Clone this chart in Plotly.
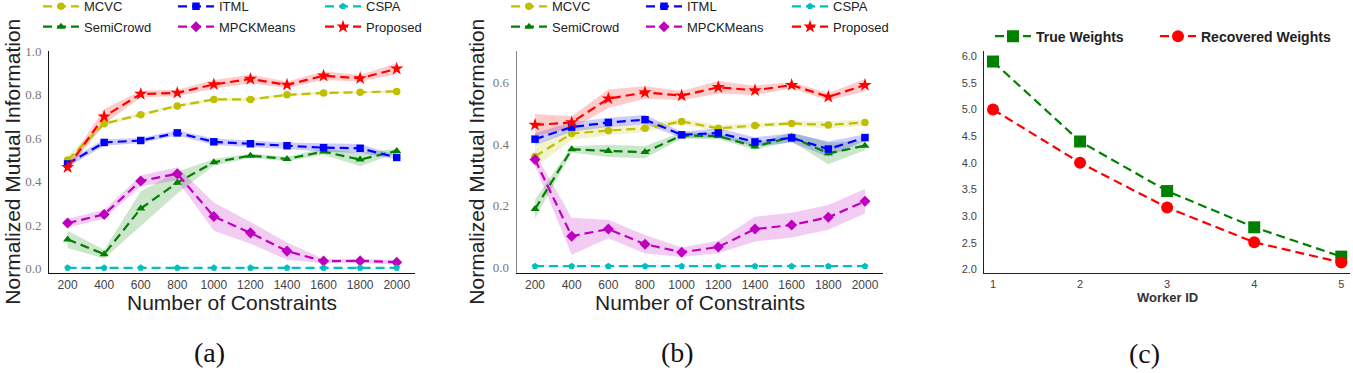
import plotly.graph_objects as go

W, H = 1353, 373
OFF = 40            # extra space above the visible page (hidden by CSS shift)
HF = H + OFF        # figure height

# ---------------- data ----------------
constraints = [200, 400, 600, 800, 1000, 1200, 1400, 1600, 1800, 2000]
methods = ["MCVC", "SemiCrowd", "ITML", "MPCKMeans", "CSPA", "Proposed"]

a_mcvc = [0.50, 0.667, 0.709, 0.749, 0.779, 0.779, 0.800, 0.809, 0.812, 0.816]
a_semi = [0.135, 0.067, 0.277, 0.396, 0.490, 0.520, 0.505, 0.539, 0.502, 0.542]
a_itml = [0.482, 0.581, 0.590, 0.625, 0.584, 0.575, 0.566, 0.557, 0.554, 0.512]
a_mpck = [0.210, 0.250, 0.404, 0.437, 0.240, 0.165, 0.081, 0.035, 0.036, 0.030]
a_cspa = [0.004, 0.004, 0.004, 0.004, 0.004, 0.004, 0.004, 0.004, 0.004, 0.004]
a_prop = [0.467, 0.700, 0.804, 0.809, 0.848, 0.873, 0.846, 0.888, 0.876, 0.920]

a_mcvc_sd = [0.020, 0.010, 0.008, 0.008, 0.008, 0.008, 0.006, 0.006, 0.006, 0.006]
a_semi_sd = [0.040, 0.020, 0.080, 0.050, 0.015, 0.010, 0.010, 0.015, 0.030, 0.010]
a_itml_sd = [0.015, 0.015, 0.012, 0.012, 0.015, 0.015, 0.015, 0.020, 0.020, 0.010]
a_mpck_sd = [0.020, 0.020, 0.025, 0.030, 0.065, 0.050, 0.040, 0.010, 0.010, 0.010]
a_cspa_sd = [0.002] * 10
a_prop_sd = [0.015, 0.035, 0.015, 0.015, 0.020, 0.020, 0.015, 0.020, 0.015, 0.025]

b_mcvc = [0.360, 0.434, 0.444, 0.451, 0.473, 0.451, 0.460, 0.467, 0.462, 0.470]
b_semi = [0.190, 0.383, 0.378, 0.374, 0.428, 0.426, 0.392, 0.423, 0.370, 0.395]
b_itml = [0.416, 0.455, 0.470, 0.479, 0.430, 0.436, 0.407, 0.420, 0.384, 0.421]
b_mpck = [0.350, 0.102, 0.125, 0.076, 0.050, 0.067, 0.125, 0.138, 0.163, 0.215]
b_cspa = [0.005, 0.005, 0.005, 0.005, 0.005, 0.005, 0.005, 0.005, 0.005, 0.005]
b_prop = [0.462, 0.470, 0.547, 0.567, 0.557, 0.584, 0.574, 0.591, 0.553, 0.591]

b_mcvc_sd = [0.035, 0.020, 0.015, 0.012, 0.010, 0.010, 0.008, 0.008, 0.012, 0.010]
b_semi_sd = [0.030, 0.010, 0.020, 0.020, 0.010, 0.010, 0.010, 0.015, 0.035, 0.015]
b_itml_sd = [0.020, 0.015, 0.015, 0.015, 0.010, 0.015, 0.015, 0.015, 0.025, 0.010]
b_mpck_sd = [0.020, 0.060, 0.030, 0.030, 0.015, 0.020, 0.040, 0.040, 0.040, 0.040]
b_cspa_sd = [0.002] * 10
b_prop_sd = [0.035, 0.020, 0.030, 0.020, 0.015, 0.020, 0.015, 0.010, 0.012, 0.020]

worker_id = [1, 2, 3, 4, 5]
true_weights = [5.90, 4.40, 3.47, 2.79, 2.24]
recovered_weights = [5.00, 4.00, 3.16, 2.51, 2.13]

x_ticks = constraints
x_ticklabels = [str(v) for v in constraints]
a_yticks = [0.0, 0.2, 0.4, 0.6, 0.8, 1.0]
b_yticks = [0.0, 0.2, 0.4, 0.6]
c_yticks = [2.0, 2.5, 3.0, 3.5, 4.0, 4.5, 5.0, 5.5, 6.0]

# ---------------- styles ----------------
colors = {"MCVC": (191, 191, 0), "SemiCrowd": (0, 128, 0), "ITML": (0, 0, 255),
          "MPCKMeans": (191, 0, 191), "CSPA": (0, 191, 191), "Proposed": (255, 0, 0)}
symbols = {"MCVC": ("circle", 7.5), "SemiCrowd": ("triangle-up", 8), "ITML": ("square", 7.5),
           "MPCKMeans": ("diamond", 8.5), "CSPA": ("pentagon", 7), "Proposed": ("star", 10)}
DASH = "9px,5px"

fig = go.Figure()

panel_a = {"MCVC": (a_mcvc, a_mcvc_sd), "SemiCrowd": (a_semi, a_semi_sd), "ITML": (a_itml, a_itml_sd),
           "MPCKMeans": (a_mpck, a_mpck_sd), "CSPA": (a_cspa, a_cspa_sd), "Proposed": (a_prop, a_prop_sd)}
panel_b = {"MCVC": (b_mcvc, b_mcvc_sd), "SemiCrowd": (b_semi, b_semi_sd), "ITML": (b_itml, b_itml_sd),
           "MPCKMeans": (b_mpck, b_mpck_sd), "CSPA": (b_cspa, b_cspa_sd), "Proposed": (b_prop, b_prop_sd)}

def px2x(p):
    return p / W

def px2y(p):
    # p is a pixel row in the visible page; the figure is OFF px taller at the top
    return 1 - (p + OFF) / HF

# legend positions (pixel, visible page) of each entry's text centre row
leg_cols_a = [45, 180, 327]
leg_cols_b = [513, 648, 794]
leg_rows = [7, 28]
leg_grid = {"MCVC": (0, 0), "ITML": (1, 0), "CSPA": (2, 0),
            "SemiCrowd": (0, 1), "MPCKMeans": (1, 1), "Proposed": (2, 1)}
LEG_TOP_TO_CENTER = 22

legend_layouts = {}
leg_idx = [1]

def new_legend(xpx, ypx, size=13, bold=False):
    name = "legend" if leg_idx[0] == 1 else f"legend{leg_idx[0]}"
    leg_idx[0] += 1
    legend_layouts[name] = dict(
        x=px2x(xpx), y=px2y(ypx - LEG_TOP_TO_CENTER), xanchor="left", yanchor="top",
        bgcolor="rgba(0,0,0,0)", borderwidth=0, itemwidth=36,
        font=dict(family="Liberation Sans", size=size, color="#222222",
                  weight="bold" if bold else "normal"),
        tracegroupgap=0, itemclick=False,
    )
    return name

for panel, xa, ya, cols in ((panel_a, "x", "y", leg_cols_a), (panel_b, "x2", "y2", leg_cols_b)):
    for m in methods:
        vals, sd = panel[m]
        r, g, b = colors[m]
        upper = [v + s for v, s in zip(vals, sd)]
        lower = [v - s for v, s in zip(vals, sd)]
        fig.add_trace(go.Scatter(
            x=constraints + constraints[::-1], y=upper + lower[::-1],
            fill="toself", fillcolor=f"rgba({r},{g},{b},0.2)", line=dict(width=0),
            mode="lines", hoverinfo="skip", showlegend=False, xaxis=xa, yaxis=ya))
    for m in methods:
        vals, sd = panel[m]
        r, g, b = colors[m]
        ci, ri = leg_grid[m]
        lname = new_legend(cols[ci] - 7, leg_rows[ri])
        sym, size = symbols[m]
        fig.add_trace(go.Scatter(
            x=constraints, y=vals, mode="lines+markers", name=m, cliponaxis=False,
            line=dict(color=f"rgb({r},{g},{b})", width=2.2, dash=DASH),
            marker=dict(symbol=sym, size=size, color=f"rgb({r},{g},{b})", line=dict(width=0)),
            xaxis=xa, yaxis=ya, legend=lname))

# panel c
ln = new_legend(997 - 7, 37, size=14, bold=True)
fig.add_trace(go.Scatter(x=worker_id, y=true_weights, mode="lines+markers", name="True Weights",
                         cliponaxis=False,
                         line=dict(color="#008000", width=2.2, dash=DASH),
                         marker=dict(symbol="square", size=12, color="#008000"),
                         xaxis="x3", yaxis="y3", legend=ln))
ln = new_legend(1162 - 7, 37, size=14, bold=True)
fig.add_trace(go.Scatter(x=worker_id, y=recovered_weights, mode="lines+markers", name="Recovered Weights",
                         cliponaxis=False,
                         line=dict(color="#ff0000", width=2.2, dash=DASH),
                         marker=dict(symbol="circle", size=12, color="#ff0000"),
                         xaxis="x3", yaxis="y3", legend=ln))

# ---------------- axes ----------------
ydom_ab = [px2y(274), px2y(46.7)]
common_x = dict(showgrid=False, zeroline=False, showline=True, linecolor="#111111", linewidth=1.3,
                ticks="outside", ticklen=1, tickcolor="rgba(0,0,0,0)",
                tickfont=dict(family="Liberation Sans", size=12, color="#444444"),
                range=[100, 2100], tickvals=x_ticks, ticktext=x_ticklabels)
common_y = dict(showgrid=False, zeroline=False, showline=True, linewidth=1.3,
                ticks="outside", ticklen=4, tickcolor="rgba(0,0,0,0)",
                tickfont=dict(family="Liberation Serif", size=13, color="#777777"),
                tickformat=".1f")

layout = dict(
    width=W, height=HF, margin=dict(l=0, r=0, t=0, b=0),
    paper_bgcolor="white", plot_bgcolor="white",
    xaxis=dict(domain=[px2x(49.3), px2x(415)], anchor="y", **common_x),
    yaxis=dict(domain=ydom_ab, anchor="x", range=[-0.018, 1.0], tickvals=a_yticks,
               linecolor="#111111", **common_y),
    xaxis2=dict(domain=[px2x(516.7), px2x(883.3)], anchor="y2", **common_x),
    yaxis2=dict(domain=ydom_ab, anchor="x2", range=[-0.016, 0.70], tickvals=b_yticks,
                linecolor="#888888", **common_y),
    xaxis3=dict(domain=[px2x(984.3), px2x(1350)], anchor="y3", range=[0.9, 5.1], tickvals=worker_id,
                showgrid=False, zeroline=False, showline=True, linecolor="#222222", linewidth=1.3,
                ticks="outside", ticklen=1, tickcolor="rgba(0,0,0,0)",
                tickfont=dict(family="Liberation Sans", size=11, color="#444444")),
    yaxis3=dict(domain=[px2y(274.3), px2y(46.7)], anchor="x3", range=[1.934, 6.09], tickvals=c_yticks,
                tickformat=".1f", showgrid=False, zeroline=False, showline=True, linecolor="#222222",
                linewidth=1.3, ticks="outside", ticklen=4, tickcolor="rgba(0,0,0,0)",
                tickfont=dict(family="Liberation Sans", size=11, color="#444444")),
)
layout.update(legend_layouts)
fig.update_layout(**layout)

def ann(text, xpx, ypx, size, family="Liberation Sans", color="#222222", angle=0, bold=False):
    fig.add_annotation(text=text, x=px2x(xpx), y=px2y(ypx), xref="paper", yref="paper",
                       xanchor="center", yanchor="middle", showarrow=False, textangle=angle,
                       font=dict(family=family, size=size, color=color,
                                 weight="bold" if bold else "normal"))

ann("Normalized Mutual Information", 13, 160, 21, angle=-90)
ann("Number of Constraints", 232, 305, 21)
ann("Normalized Mutual Information", 477, 160, 21, angle=-90)
ann("Number of Constraints", 700, 305, 21)
ann("Worker ID", 1167, 300, 13, color="#333333", bold=True)
ann("(a)", 209, 356, 28, family="Liberation Serif", color="#111111")
ann("(b)", 677, 356, 28, family="Liberation Serif", color="#111111")
ann("(c)", 1144, 357, 28, family="Liberation Serif", color="#111111")

post = ("document.body.style.margin='0px';document.body.style.padding='0px';"
        "document.body.style.overflow='hidden';"
        "document.getElementById('{plot_id}').style.marginTop='-%dpx';" % OFF)
fig.write_html("out.html", config={"displayModeBar": False}, post_script=post)
